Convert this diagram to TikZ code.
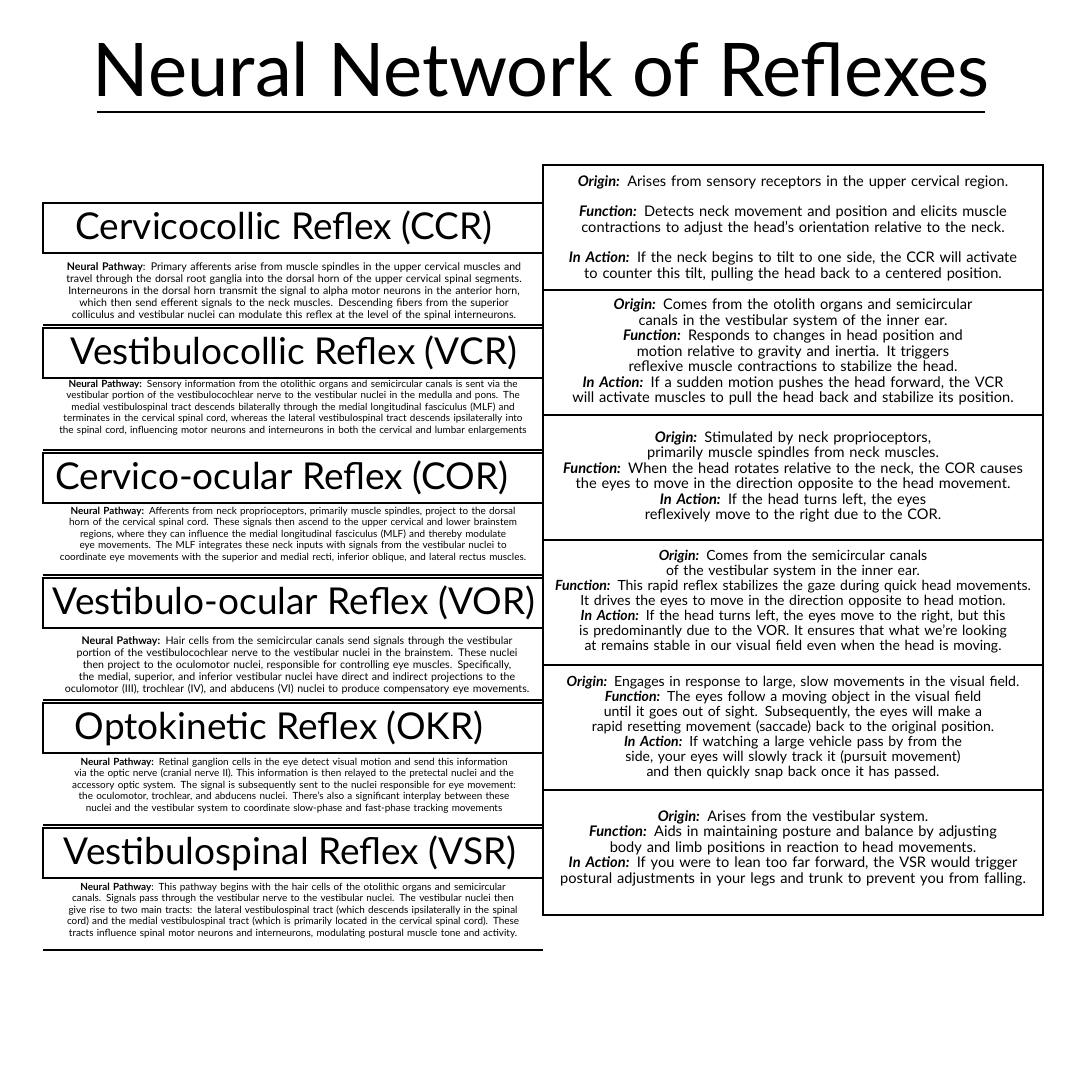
\documentclass[tikz,border=0pt]{standalone}
\usepackage{fontspec}
\setmainfont{Lato}
\lefthyphenmin=64
\begin{document}
\begin{tikzpicture}[x=1pt,y=-1pt,
  frame/.style={line width=1.6pt},
  ttl/.style={font=\fontsize{37}{40}\selectfont, anchor=center},
  lft/.style={font=\fontsize{10.6}{12}\selectfont, text width=500pt, align=center, anchor=north, inner sep=0pt},
  lfs/.style={lft, font=\fontsize{9.9}{11.4}\selectfont},
  rgt/.style={font=\fontsize{14.6}{15.5}\selectfont, text width=498pt, align=center, anchor=center, inner sep=0pt},
  rgs/.style={rgt, font=\fontsize{14}{15}\selectfont}]
\useasboundingbox (0,0) rectangle (1080,1080);
\fill[white] (0,0) rectangle (1080,1080);
\node (title) at (541,70) {\fontsize{74}{80}\selectfont Neural Network of Reflexes};
\draw[line width=2.5pt] (97,112) -- (985,112);

% left sections
\foreach \y in {203,328,453,578,703,828}{
  \draw[frame] (43,\y) rectangle (543,\y+50);
  \draw[frame] (43,\y+122) -- (543,\y+122);
}
\node[ttl] (t1) at (284,228) {Cervicocollic Reflex (CCR)};
\node[ttl] (t2) at (294,353) {Vestibulocollic Reflex (VCR)};
\node[ttl] (t3) at (282,478) {Cervico-ocular Reflex (COR)};
\node[ttl] (t4) at (294,603) {Vestibulo-ocular Reflex (VOR)};
\node[ttl] (t5) at (279,728) {Optokinetic Reflex (OKR)};
\node[ttl] (t6) at (290,853) {Vestibulospinal Reflex (VSR)};

\node[lft] (p1) at (294,262) {\textbf{Neural Pathway}: Primary afferents arise from muscle spindles in the upper cervical muscles and travel through the dorsal root ganglia into the dorsal horn of the upper cervical spinal segments. Interneurons in the dorsal horn transmit the signal to alpha motor neurons in the anterior horn, which then send efferent signals to the neck muscles. Descending fibers from the superior colliculus and vestibular nuclei can modulate this reflex at the level of the spinal interneurons.};
\node[lfs] (p2) at (293,380) {\textbf{Neural Pathway:} Sensory information from the otolithic organs and semicircular canals is sent via the vestibular portion of the vestibulocochlear nerve to the vestibular nuclei in the medulla and pons. The medial vestibulospinal tract descends bilaterally through the medial longitudinal fasciculus (MLF) and terminates in the cervical spinal cord, whereas the lateral vestibulospinal tract descends ipsilaterally into the spinal cord, influencing motor neurons and interneurons in both the cervical and lumbar enlargements};
\node[lfs] (p3) at (293,507) {\textbf{Neural Pathway:} Afferents from neck proprioceptors, primarily muscle spindles, project to the dorsal horn of the cervical spinal cord. These signals then ascend to the upper cervical and lower brainstem regions, where they can influence the medial longitudinal fasciculus (MLF) and thereby modulate eye movements. The MLF integrates these neck inputs with signals from the vestibular nuclei to coordinate eye movements with the superior and medial recti, inferior oblique, and lateral rectus muscles.};
\node[lft] (p4) at (297,636) {\textbf{Neural Pathway:} Hair cells from the semicircular canals send signals through the vestibular portion of the vestibulocochlear nerve to the vestibular nuclei in the brainstem. These nuclei then project to the oculomotor nuclei, responsible for controlling eye muscles. Specifically, the medial, superior, and inferior vestibular nuclei have direct and indirect projections to the oculomotor (III), trochlear (IV), and abducens (VI) nuclei to produce compensatory eye movements.};
\node[lfs] (p5) at (294,758) {\textbf{Neural Pathway:} Retinal ganglion cells in the eye detect visual motion and send this information via the optic nerve (cranial nerve II). This information is then relayed to the pretectal nuclei and the accessory optic system. The signal is subsequently sent to the nuclei responsible for eye movement: the oculomotor, trochlear, and abducens nuclei. There's also a significant interplay between these nuclei and the vestibular system to coordinate slow-phase and fast-phase tracking movements};
\node[lfs] (p6) at (293,883) {\textbf{Neural Pathway}: This pathway begins with the hair cells of the otolithic organs and semicircular canals. Signals pass through the vestibular nerve to the vestibular nuclei. The vestibular nuclei then give rise to two main tracts: the lateral vestibulospinal tract (which descends ipsilaterally in the spinal cord) and the medial vestibulospinal tract (which is primarily located in the cervical spinal cord). These tracts influence spinal motor neurons and interneurons, modulating postural muscle tone and activity.};

% right boxes
\foreach \y in {165,290,415,540,665,790}{
  \draw[frame] (543,\y) rectangle (1043,\y+125);
}
\newcommand{\lb}[1]{\textbf{\textit{#1}}}
\node[rgt] (r1) at (793,228) {\lb{Origin:} Arises from sensory receptors in the upper cervical region.\\[15pt]
\lb{Function:} Detects neck movement and position and elicits muscle contractions to adjust the head's orientation relative to the neck.\\[15pt]
\lb{In Action:} If the neck begins to tilt to one side, the CCR will activate to counter this tilt, pulling the head back to a centered position.};
\node[rgt] (r2) at (793,352) {\lb{Origin:} Comes from the otolith organs and semicircular canals in the vestibular system of the inner ear.\\
\lb{Function:} Responds to changes in head position and motion relative to gravity and inertia. It triggers reflexive muscle contractions to stabilize the head.\\
\lb{In Action:} If a sudden motion pushes the head forward, the VCR will activate muscles to pull the head back and stabilize its position.};
\node[rgt] (r3) at (793,477) {\lb{Origin:} Stimulated by neck proprioceptors, primarily muscle spindles from neck muscles.\\
\lb{Function:} When the head rotates relative to the neck, the COR causes the eyes to move in the direction opposite to the head movement.\\
\lb{In Action:} If the head turns left, the eyes reflexively move to the right due to the COR.};
\node[rgs] (r4) at (793,602) {\lb{Origin:} Comes from the semicircular canals of the vestibular system in the inner ear.\\
\lb{Function:} This rapid reflex stabilizes the gaze during quick head movements. It drives the eyes to move in the direction opposite to head motion.\\
\lb{In Action:} If the head turns left, the eyes move to the right, but this is predominantly due to the VOR. It ensures that what we're looking at remains stable in our visual field even when the head is moving.};
\node[rgs] (r5) at (793,727) {\lb{Origin:} Engages in response to large, slow movements in the visual field.\\
\lb{Function:} The eyes follow a moving object in the visual field until it goes out of sight. Subsequently, the eyes will make a rapid resetting movement (saccade) back to the original position.\\
\lb{In Action:} If watching a large vehicle pass by from the side, your eyes will slowly track it (pursuit movement) and then quickly snap back once it has passed.};
\node[rgt] (r6) at (793,848) {\lb{Origin:} Arises from the vestibular system.\\
\lb{Function:} Aids in maintaining posture and balance by adjusting body and limb positions in reaction to head movements.\\
\lb{In Action:} If you were to lean too far forward, the VSR would trigger postural adjustments in your legs and trunk to prevent you from falling.};
\end{tikzpicture}
\end{document}
